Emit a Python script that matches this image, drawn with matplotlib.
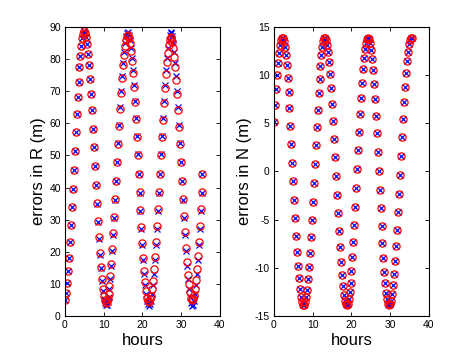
import numpy as np
import matplotlib
matplotlib.use("Agg")
import matplotlib.pyplot as plt

plt.rcParams['font.family'] = ['Liberation Sans', 'DejaVu Sans']
plt.rcParams['axes.unicode_minus'] = False

# sample times, one every 15 minutes
step = 0.25
n_samples = 143

# errors in R (m): blue x = true, red o = estimated
r_true = [5.0, 7.3, 10.2, 14.0, 18.2, 23.1, 28.3, 33.8, 39.5, 45.5,
          51.5, 57.2, 62.9, 68.1, 73.0, 77.4, 81.1, 84.1, 86.5, 87.8,
          88.6, 88.0, 86.8, 84.6, 81.7, 78.2, 73.9, 69.1, 64.0, 58.3,
          52.6, 46.7, 40.7, 34.9, 29.4, 24.1, 19.1, 14.8, 10.9, 7.8,
          5.4, 4.1, 3.3, 3.3, 4.3, 5.8, 8.4, 11.6, 15.6, 20.1,
          25.2, 30.5, 36.1, 41.9, 47.9, 53.8, 59.5, 65.0, 70.1, 74.8,
          78.9, 82.3, 85.1, 87.1, 88.2, 88.5, 87.6, 86.1, 83.5, 80.4,
          76.5, 72.0, 67.1, 61.8, 56.1, 50.3, 44.3, 38.4, 32.7, 27.2,
          22.1, 17.4, 13.2, 9.6, 6.8, 4.7, 3.8, 3.1, 3.8, 4.7,
          6.8, 9.6, 13.2, 17.4, 22.1, 27.2, 32.7, 38.4, 44.3, 50.3,
          56.1, 61.8, 67.1, 72.0, 76.5, 80.4, 83.5, 86.1, 87.6, 88.5,
          88.2, 87.1, 85.1, 82.3, 78.9, 74.8, 70.1, 65.0, 59.5, 53.8,
          47.9, 41.9, 36.1, 30.5, 25.2, 20.1, 15.6, 11.6, 8.4, 5.8,
          4.0, 3.0, 3.4, 4.7, 6.8, 9.6, 13.2, 17.4, 22.1, 27.2,
          32.7, 38.4, 44.3]
r_est = [5.0, 7.3, 10.2, 14.0, 18.2, 23.1, 28.3, 33.8, 39.5, 45.5,
         51.5, 57.2, 62.9, 68.1, 73.0, 77.4, 81.1, 84.1, 86.5, 87.8,
         88.6, 88.0, 86.8, 84.6, 81.7, 78.2, 73.9, 69.1, 64.0, 58.3,
         52.6, 46.7, 40.7, 35.1, 29.7, 24.5, 19.6, 15.4, 11.6, 8.5,
         6.2, 4.9, 4.1, 4.3, 5.3, 6.8, 9.3, 12.4, 16.3, 20.7,
         25.7, 30.9, 36.3, 42.0, 47.8, 53.6, 59.1, 64.5, 69.5, 74.1,
         78.1, 81.4, 84.1, 86.0, 87.1, 87.4, 86.5, 85.1, 82.5, 79.5,
         75.7, 71.3, 66.5, 61.4, 55.8, 50.2, 44.3, 38.6, 33.0, 27.6,
         22.7, 18.1, 14.0, 10.5, 7.8, 5.7, 4.8, 4.2, 5.4, 6.3,
         8.3, 11.0, 14.5, 18.5, 23.0, 27.9, 33.2, 38.7, 44.3, 50.1,
         55.7, 61.1, 66.2, 70.9, 75.2, 79.0, 82.0, 84.5, 85.9, 86.8,
         86.5, 85.4, 83.5, 80.8, 77.5, 73.6, 69.1, 64.2, 58.9, 53.4,
         47.8, 42.0, 36.5, 31.1, 26.0, 21.1, 16.8, 12.9, 9.9, 7.4,
         5.6, 4.9, 5.3, 6.5, 8.5, 11.2, 14.6, 18.6, 23.1, 28.0,
         33.3, 38.7, 44.3]

# errors in N (m)
n_true = [5.14, 6.92, 8.55, 10.02, 11.28, 12.31, 13.10, 13.63, 13.88, 13.85,
          13.54, 12.96, 12.12, 11.04, 9.74, 8.23, 6.57, 4.77, 2.88, 0.93,
          -1.04, -2.99, -4.88, -6.67, -8.33, -9.82, -11.11, -12.18, -13.01, -13.57,
          -13.86, -13.87, -13.60, -13.06, -12.26, -11.21, -9.93, -8.46, -6.81, -5.03,
          -3.15, -1.20, 0.77, 2.72, 4.62, 6.43, 8.11, 9.62, 10.94, 12.05,
          12.91, 13.51, 13.84, 13.89, 13.66, 13.15, 12.39, 11.37, 10.12, 8.68,
          7.05, 5.29, 3.42, 1.48, -0.49, -2.45, -4.36, -6.19, -7.88, -9.42,
          -10.77, -11.91, -12.80, -13.44, -13.81, -13.90, -13.71, -13.24, -12.51, -11.53,
          -10.31, -8.89, -7.29, -5.54, -3.68, -1.75, 0.22, 2.18, 4.10, 5.94,
          7.65, 9.22, 10.60, 11.76, 12.69, 13.37, 13.77, 13.90, 13.75, 13.32,
          12.63, 11.68, 10.50, 9.10, 7.52, 5.79, 3.95, 2.03, 0.06, -1.91,
          -3.83, -5.68, -7.42, -9.01, -10.42, -11.61, -12.58, -13.29, -13.73, -13.90,
          -13.79, -13.40, -12.74, -11.83, -10.68, -9.31, -7.76, -6.05, -4.21, -2.30,
          -0.34, 1.63, 3.57, 5.43, 7.18, 8.80, 10.23, 11.46, 12.45, 13.20,
          13.68, 13.89, 13.82]
n_est = list(n_true)

hours = np.arange(n_samples) * step

fig = plt.figure(figsize=(4.74, 3.55), dpi=100)
ax1 = fig.add_axes([0.137, 0.110, 0.327, 0.814])
ax2 = fig.add_axes([0.578, 0.110, 0.327, 0.814])


def style(ax, ylim, yticks, ylabel):
    ax.set_xlim(0, 40)
    ax.set_ylim(*ylim)
    ax.set_xticks([0, 10, 20, 30, 40])
    ax.set_yticks(yticks)
    ax.tick_params(direction='in', top=True, right=True, length=3,
                   width=0.6, labelsize=7.5, pad=3)
    for s in ax.spines.values():
        s.set_linewidth(0.8)
    ax.set_xlabel('hours', fontsize=12, labelpad=2)
    ax.set_ylabel(ylabel, fontsize=12, labelpad=2)


ax1.plot(hours, r_true, 'bx', ms=4.2, mew=0.9)
ax1.plot(hours, r_est, 'o', mfc='none', mec='r', ms=5.2, mew=0.9)
style(ax1, (0, 90), range(0, 91, 10), 'errors in R (m)')

ax2.plot(hours, n_true, 'bx', ms=4.2, mew=0.9)
ax2.plot(hours, n_est, 'o', mfc='none', mec='r', ms=5.2, mew=0.9)
style(ax2, (-15, 15), range(-15, 16, 5), 'errors in N (m)')

fig.savefig('out.png', dpi=100)
